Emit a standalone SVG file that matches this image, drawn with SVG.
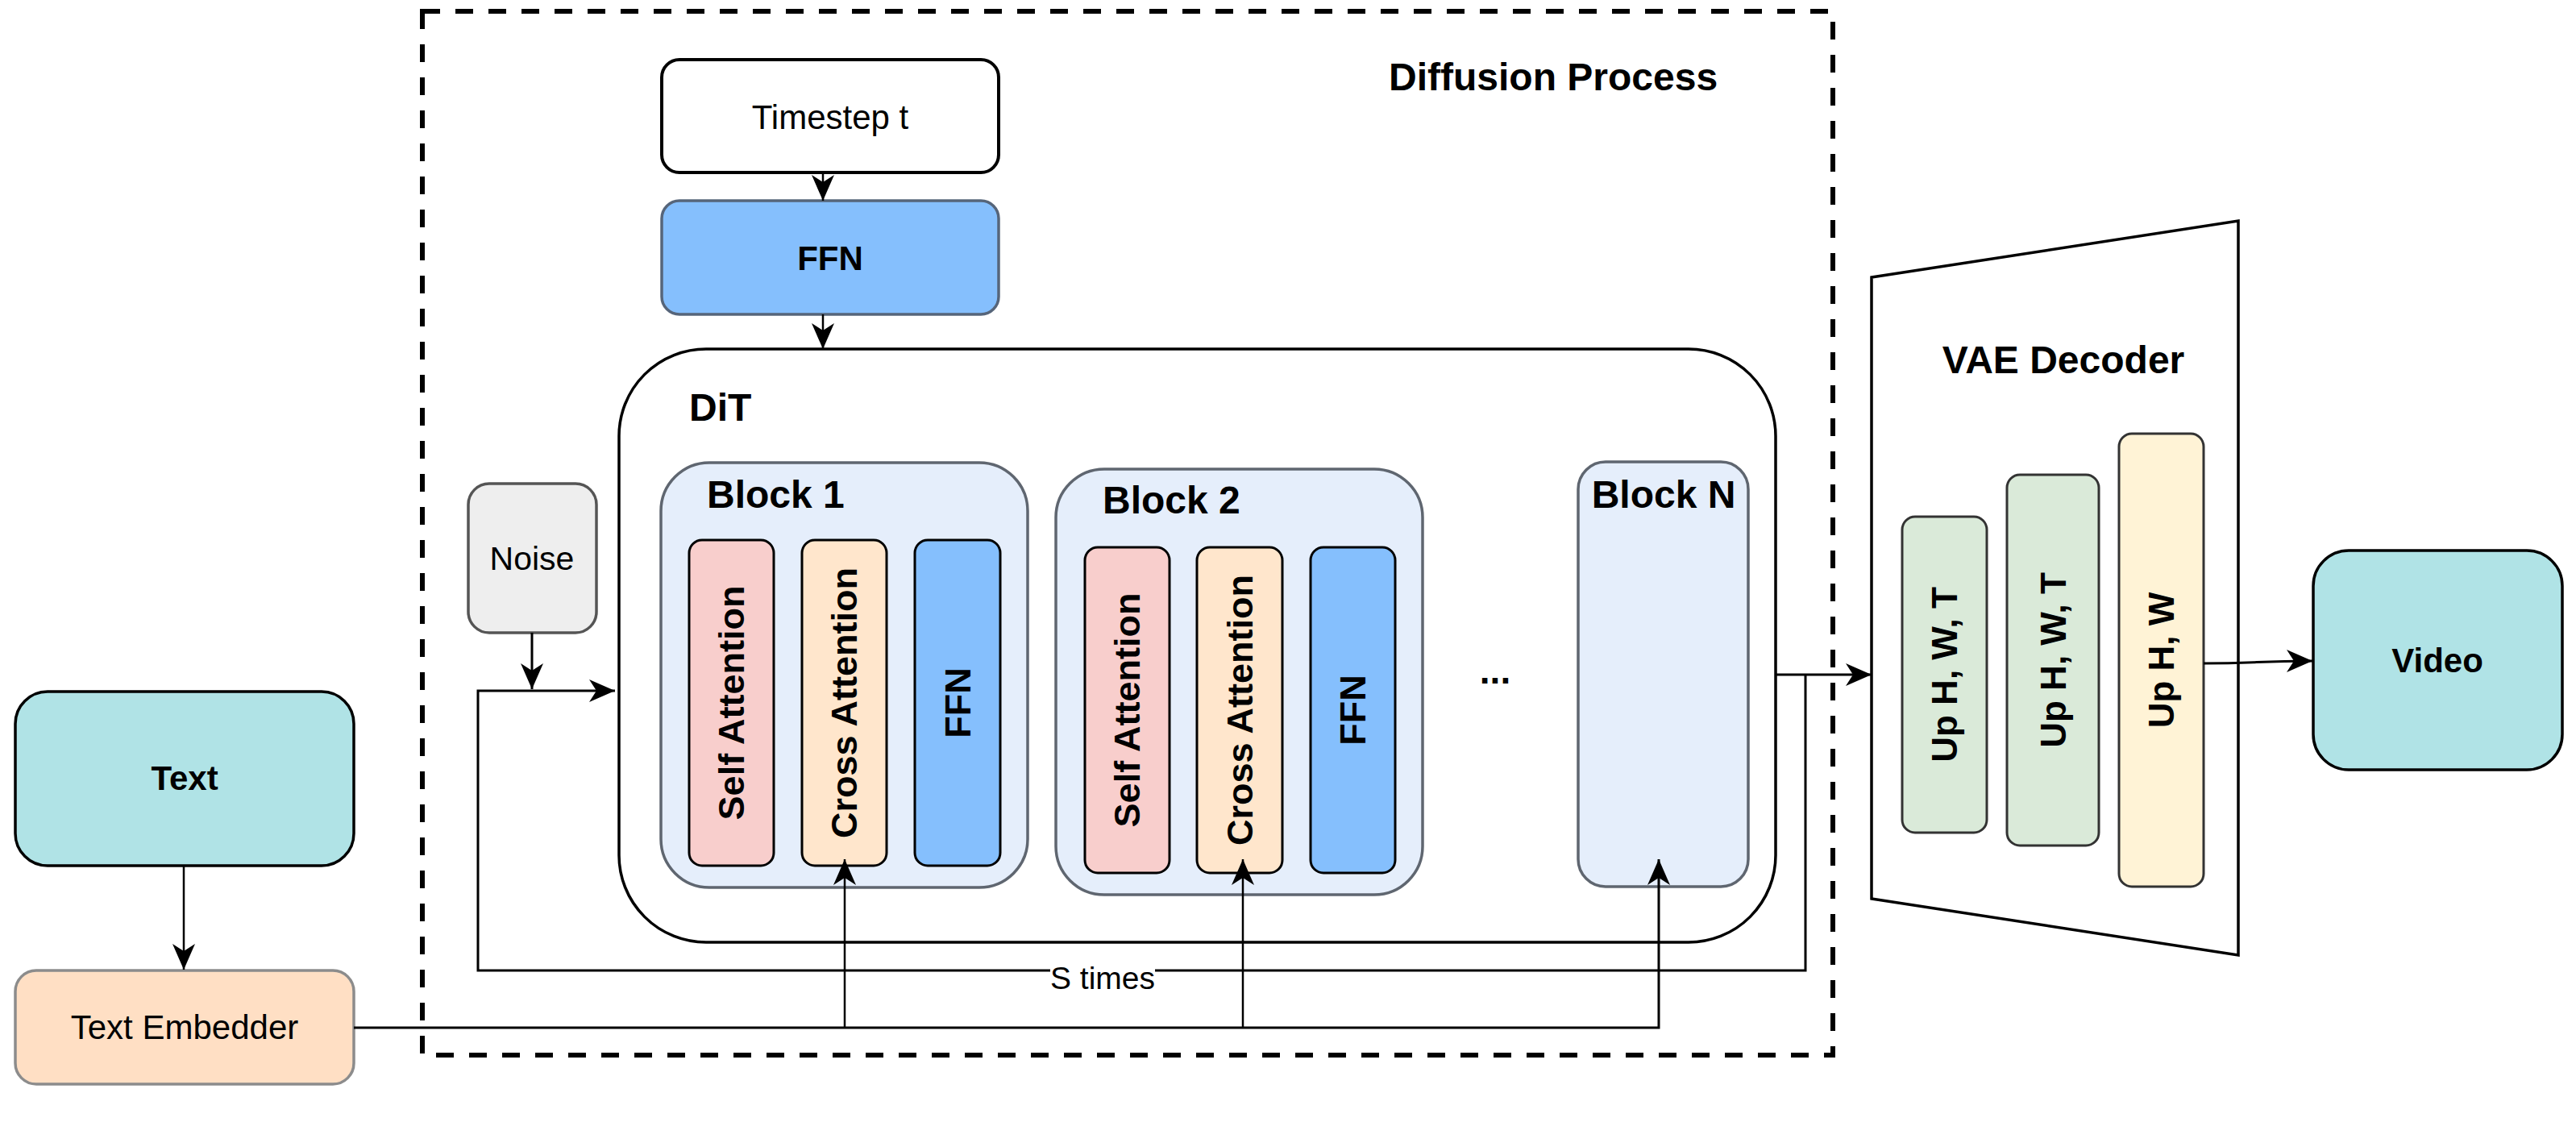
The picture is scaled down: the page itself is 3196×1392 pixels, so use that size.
<svg xmlns="http://www.w3.org/2000/svg" width="3196" height="1392" viewBox="0 0 3196 1392">
<style>
text{font-family:"Liberation Sans",Arial,Helvetica,sans-serif;fill:#000}
.b{font-weight:bold}
.r{font-weight:normal}
.bar{stroke:#000;stroke-width:3}
.blk{fill:#E5EEFB;stroke:#5F6670;stroke-width:3.5}
.ln{fill:none;stroke:#000;stroke-width:3}
.thin{fill:none;stroke:#000;stroke-width:2.5}
</style>
<defs>
<marker id="ah" viewBox="0 0 32 28" refX="32" refY="14" markerWidth="32" markerHeight="28" markerUnits="userSpaceOnUse" orient="auto">
<path d="M0,0 L32,14 L0,28 L9,14 Z" fill="#000"/>
</marker>
</defs>
<rect width="3196" height="1392" fill="#fff"/>
<g id="diffusion-process">
<rect x="524" y="14" width="1750" height="1295" fill="none" stroke="#000" stroke-width="6" stroke-dasharray="22 19"/>
<text class="b" x="1723" y="112" font-size="48">Diffusion Process</text>
</g>
<g id="timestep">
<rect x="821" y="74" width="418" height="140" rx="22" fill="#fff" stroke="#000" stroke-width="4"/>
<text class="r" x="1030" y="160" font-size="42" text-anchor="middle">Timestep t</text>
</g>
<g id="ffn-time">
<rect x="821" y="249" width="418" height="141" rx="22" fill="#85BFFD" stroke="#56657A" stroke-width="3.5"/>
<text class="b" x="1030" y="335" font-size="42" text-anchor="middle">FFN</text>
</g>
<g id="dit">
<rect x="768" y="433" width="1435" height="736" rx="108" fill="#fff" stroke="#000" stroke-width="3.5"/>
<text class="b" x="855" y="522" font-size="48">DiT</text>
</g>
<g id="block1">
<rect class="blk" x="820" y="574" width="455" height="527" rx="60"/>
<text class="b" x="877" y="630" font-size="48">Block 1</text>
</g>
<g id="b1-self">
<rect class="bar" x="855" y="670" width="105" height="404" rx="16" fill="#F8CECC"/>
<text class="b" x="907.5" y="872" font-size="45" text-anchor="middle" dominant-baseline="central" transform="rotate(-90 907.5 872)">Self Attention</text>
</g>
<g id="b1-cross">
<rect class="bar" x="995" y="670" width="105" height="404" rx="16" fill="#FFE6CC"/>
<text class="b" x="1047.5" y="872" font-size="45" text-anchor="middle" dominant-baseline="central" transform="rotate(-90 1047.5 872)">Cross Attention</text>
</g>
<g id="b1-ffn">
<rect class="bar" x="1135" y="670" width="106" height="404" rx="16" fill="#85BFFD"/>
<text class="b" x="1188" y="872" font-size="45" text-anchor="middle" dominant-baseline="central" transform="rotate(-90 1188 872)">FFN</text>
</g>
<g id="block2">
<rect class="blk" x="1310" y="582" width="455" height="528" rx="60"/>
<text class="b" x="1368" y="637" font-size="48">Block 2</text>
</g>
<g id="b2-self">
<rect class="bar" x="1346" y="679" width="105" height="404" rx="16" fill="#F8CECC"/>
<text class="b" x="1398.5" y="881" font-size="45" text-anchor="middle" dominant-baseline="central" transform="rotate(-90 1398.5 881)">Self Attention</text>
</g>
<g id="b2-cross">
<rect class="bar" x="1485" y="679" width="106" height="404" rx="16" fill="#FFE6CC"/>
<text class="b" x="1538" y="881" font-size="45" text-anchor="middle" dominant-baseline="central" transform="rotate(-90 1538 881)">Cross Attention</text>
</g>
<g id="b2-ffn">
<rect class="bar" x="1626" y="679" width="105" height="404" rx="16" fill="#85BFFD"/>
<text class="b" x="1678.5" y="881" font-size="45" text-anchor="middle" dominant-baseline="central" transform="rotate(-90 1678.5 881)">FFN</text>
</g>
<g id="ellipsis">
<text class="b" x="1855" y="848" font-size="46" text-anchor="middle">...</text>
</g>
<g id="blockN">
<rect class="blk" x="1958" y="573" width="211" height="527" rx="34"/>
<text class="b" x="2064" y="630" font-size="48" text-anchor="middle">Block N</text>
</g>
<g id="noise">
<rect x="581" y="600" width="159" height="185" rx="26" fill="#EEEEEE" stroke="#555" stroke-width="3.5"/>
<text class="r" x="660" y="707" font-size="41" text-anchor="middle">Noise</text>
</g>
<g id="text">
<rect x="19" y="858" width="420" height="216" rx="40" fill="#B0E3E6" stroke="#000" stroke-width="3.5"/>
<text class="b" x="229" y="980" font-size="42" text-anchor="middle">Text</text>
</g>
<g id="text-embedder">
<rect x="19" y="1204" width="420" height="141" rx="26" fill="#FFDFC4" stroke="#8C8C8C" stroke-width="3.5"/>
<text class="r" x="229" y="1289" font-size="42" text-anchor="middle">Text Embedder</text>
</g>
<g id="vae-decoder">
<path d="M2322 344 L2777 274 L2777 1185 L2322 1115 Z" fill="#fff" stroke="#000" stroke-width="3.5"/>
<text class="b" x="2560" y="463" font-size="48" text-anchor="middle">VAE Decoder</text>
</g>
<g id="up1">
<rect x="2360" y="641" width="105" height="392" rx="16" fill="#DAEAD9" stroke="#333" stroke-width="3"/>
<text class="b" x="2412.5" y="837" font-size="44" text-anchor="middle" dominant-baseline="central" transform="rotate(-90 2412.5 837)">Up H, W, T</text>
</g>
<g id="up2">
<rect x="2490" y="589" width="114" height="460" rx="16" fill="#DAEAD9" stroke="#333" stroke-width="3"/>
<text class="b" x="2547" y="819" font-size="44" text-anchor="middle" dominant-baseline="central" transform="rotate(-90 2547 819)">Up H, W, T</text>
</g>
<g id="up3">
<rect x="2629" y="538" width="105" height="562" rx="16" fill="#FFF3D6" stroke="#333" stroke-width="3"/>
<text class="b" x="2681.5" y="819" font-size="44" text-anchor="middle" dominant-baseline="central" transform="rotate(-90 2681.5 819)">Up H, W</text>
</g>
<g id="video">
<rect x="2870" y="683" width="309" height="272" rx="44" fill="#B0E3E6" stroke="#000" stroke-width="3.5"/>
<text class="b" x="3024" y="834" font-size="42" text-anchor="middle">Video</text>
</g>
<g id="connectors">
<path class="thin" d="M1021 214 L1021 249" marker-end="url(#ah)"/>
<path class="thin" d="M1021 390 L1021 433" marker-end="url(#ah)"/>
<path class="ln" d="M660 785 L660 855" marker-end="url(#ah)"/>
<path class="ln" d="M2240 837 L2240 1204 L593 1204 L593 857 L763 857" marker-end="url(#ah)"/>
<path class="ln" d="M2203 837 L2322 837" marker-end="url(#ah)"/>
<path class="thin" d="M228 1074 L228 1203" marker-end="url(#ah)"/>
<path class="ln" d="M439 1275 L2058 1275 L2058 1066" marker-end="url(#ah)"/>
<path class="thin" d="M1048 1275 L1048 1066" marker-end="url(#ah)"/>
<path class="thin" d="M1542 1275 L1542 1066" marker-end="url(#ah)"/>
<path class="ln" d="M2734 823 C2800 823 2800 820 2869 820" marker-end="url(#ah)"/>
<rect x="1303" y="1194" width="130" height="40" fill="#fff"/>
<text class="r" x="1368" y="1227" font-size="39" text-anchor="middle">S times</text>
</g>
</svg>
